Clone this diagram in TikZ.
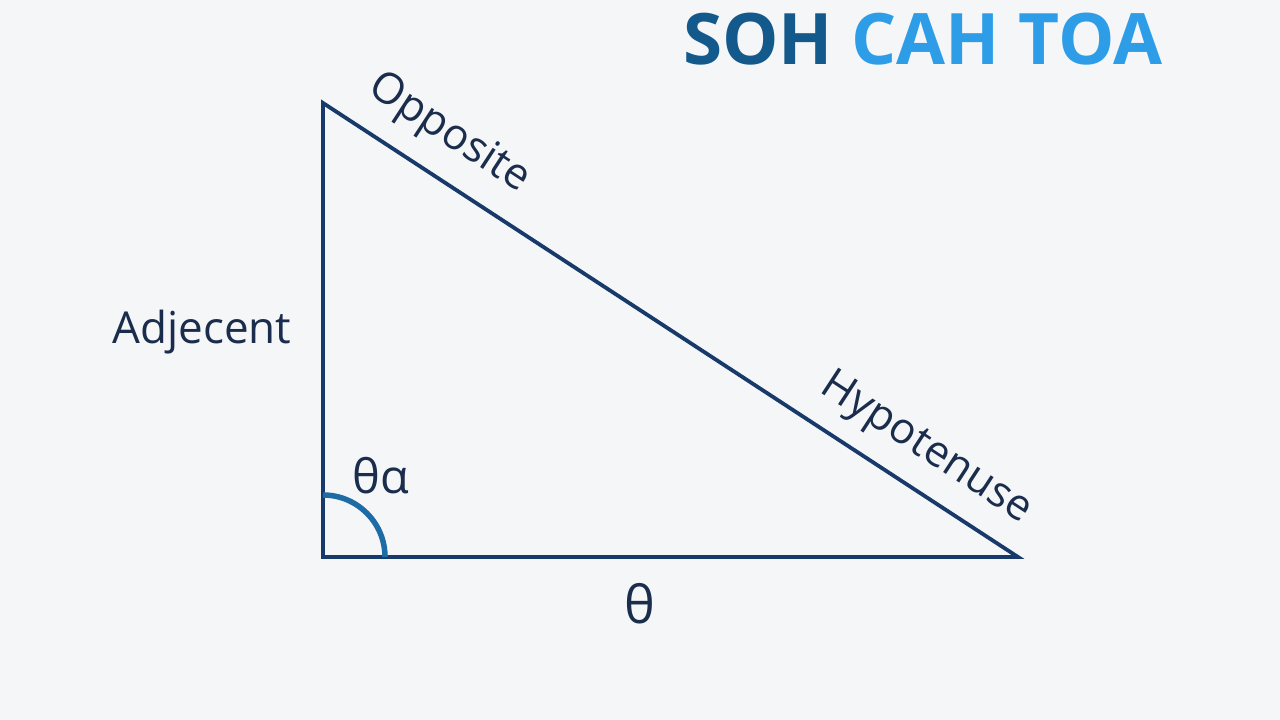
\documentclass[tikz,border=0pt]{standalone}
\usepackage{fontspec}
\setmainfont{Open Sans}
\definecolor{bgc}{HTML}{F5F6F7}
\definecolor{navy}{HTML}{173A6A}
\definecolor{txt}{HTML}{1B2D4C}
\definecolor{arcblue}{HTML}{1E6CA6}
\definecolor{sohc}{HTML}{14598C}
\definecolor{cahc}{HTML}{2E9DE8}
\tikzset{
  lbl/.style={text=txt, inner sep=0pt, font=\fontsize{43}{50}\selectfont},
  side/.style={draw=navy, line width=3.8pt, line join=miter},
}
\begin{document}
\begin{tikzpicture}[x=1pt,y=1pt]
\fill[bgc] (0,0) rectangle (1280,720);
\useasboundingbox (0,0) rectangle (1280,720);
\coordinate (A) at (323,617);
\coordinate (B) at (323,163);
\coordinate (C) at (1018,163);
\draw[side] (A) -- (B) -- (C) -- cycle;
\draw[draw=arcblue, line width=5.5pt] (385,163) arc[start angle=0, end angle=90, radius=62];
\node[lbl, rotate=-33.15] (opp) at (449,586) {Opposite};
\node[lbl, rotate=-33.15] (hyp) at (926,271) {Hypotenuse};
\node[lbl, font=\fontsize{44}{50}\selectfont] (adj) at (202,388) {Adjecent};
\node[lbl, font=\fontsize{47}{52}\selectfont] (ta) at (381,244) {θα};
\node[lbl, font=\fontsize{52}{58}\selectfont] (th) at (640,116) {θ};
\node[anchor=base west, inner sep=0pt, font=\fontsize{71}{78}\selectfont\bfseries] (title) at (683,655) {\textcolor{sohc}{SOH} \textcolor{cahc}{CAH TOA}};
\end{tikzpicture}
\end{document}
